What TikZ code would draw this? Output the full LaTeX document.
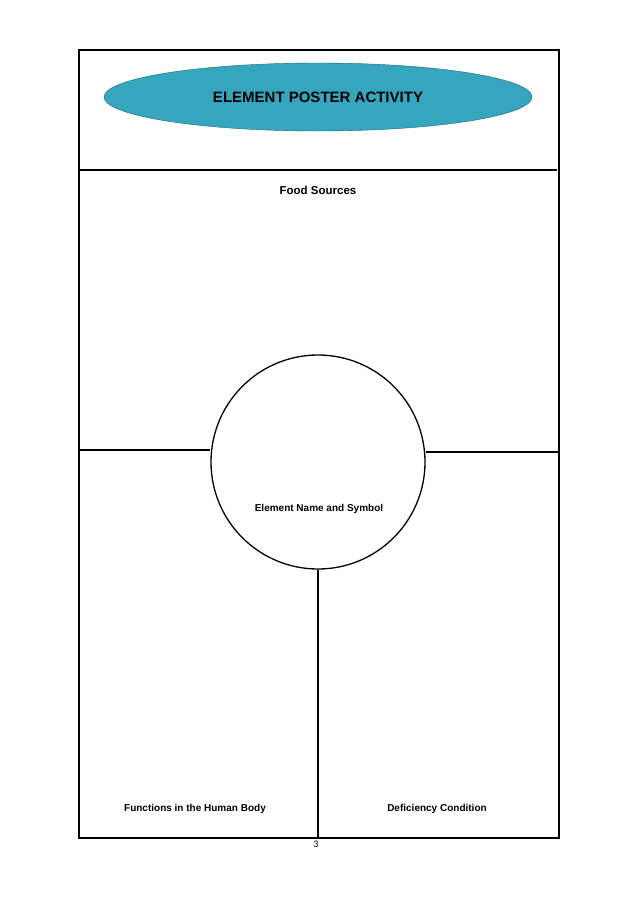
\documentclass[tikz,border=0pt]{standalone}
\usepackage{fontspec}
\setmainfont{Liberation Sans}
\newfontfamily\pagefont{Carlito}
\usetikzlibrary{positioning,shapes.geometric}
\definecolor{titleblue}{HTML}{36A6BF}
\tikzset{frame/.style={draw=black, line width=1.3pt},
  lbl/.style={font=\bfseries\fontsize{10}{12}\selectfont}}
\begin{document}
\begin{tikzpicture}[x=1pt,y=-1pt]
  \useasboundingbox (0,0) rectangle (638,902);
%
  \draw[frame] (79,50) rectangle (559,838);
  \coordinate (tl) at (79,170);
  \coordinate (tr) at (557,170);
  \draw[frame] (tl) -- (tr);
%
  \node[ellipse, draw=titleblue!60!black, fill=titleblue, minimum width=428, minimum height=68, inner sep=0pt] (title) at (318,97) {};
  \node[font=\bfseries\fontsize{15}{18}\selectfont] at (title) {ELEMENT POSTER ACTIVITY};
  \node[font=\bfseries\fontsize{11.5}{14}\selectfont] (food) at (318,190) {Food Sources};
%
  \node[circle, frame, minimum size=214, inner sep=0pt] (elem) at (318,462) {};
  \node[lbl] (name) at (319,509) {Element Name and Symbol};
%
  \coordinate (ll) at (79,450);
  \coordinate (rr) at (559,452);
  \coordinate (bot) at (318,838);
  \draw[frame] (ll) -- (elem.west |- ll);
  \draw[frame] (elem.east |- rr) -- (rr);
  \draw[frame] (elem.south) -- (bot);
%
  \node[lbl] (func) at (195,809) {Functions in the Human Body};
  \node[lbl] (defc) at (437,809) {Deficiency Condition};
  \node[font=\pagefont\fontsize{10}{12}\selectfont] (pg) at (316,844) {3};
\end{tikzpicture}
\end{document}
